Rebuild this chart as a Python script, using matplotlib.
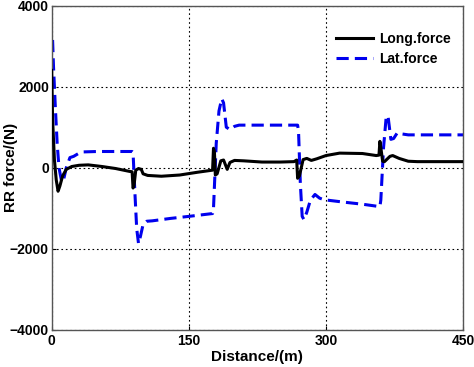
"""
RR force vs distance: longitudinal and lateral tyre force.
"""

import numpy as np
import matplotlib
matplotlib.use("Agg")
import matplotlib.pyplot as plt

plt.rcParams["font.family"] = ["Liberation Sans", "DejaVu Sans"]
plt.rcParams["font.weight"] = "bold"

# ── Data ────────────────────────────────────────────────────────
long_dist = [0, 1, 2, 3, 5, 7, 9, 12, 16, 22, 30, 40, 55, 70, 85, 88, 89, 90,
             92, 95, 98, 100, 105, 120, 140, 160, 176, 177, 178, 179, 181,
             185, 188, 192, 195, 200, 210, 230, 250, 265, 268, 269, 271, 275,
             279, 284, 290, 300, 315, 340, 355, 358, 359, 360, 362, 364, 370,
             373, 380, 390, 400, 450]
long_force = [2400, 1200, 700, 200, -300, -580, -450, -200, -40, 30, 60, 70,
              30, -20, -90, -100, -500, -450, -60, -20, -40, -150, -190, -210,
              -180, -110, -60, 480, 400, -180, -150, 170, 190, -40, 130, 180,
              170, 140, 140, 150, 190, -260, -200, 200, 230, 180, 220, 300,
              360, 350, 300, 310, 650, 500, 160, 150, 280, 300, 230, 160, 150,
              150]

lat_dist = [1, 2, 4, 6, 8, 11, 13, 16, 20, 24, 30, 35, 50, 88, 89, 91, 93, 95,
            97, 100, 104, 110, 130, 150, 176, 177, 180, 183, 186, 188, 191,
            195, 200, 205, 269, 270, 272, 274, 276, 279, 283, 288, 293, 298,
            320, 340, 359, 360, 363, 366, 368, 371, 374, 378, 381, 390, 450]
lat_force = [3150, 2500, 1500, 600, 0, -350, -300, 0, 250, 280, 360, 390, 400,
             400, 380, -600, -1500, -1870, -1700, -1400, -1320, -1310, -1250,
             -1200, -1130, -1000, 600, 1400, 1700, 1600, 1000, 940, 1020, 1050,
             1050, 900, -400, -1200, -1280, -1100, -800, -660, -750, -790,
             -850, -900, -960, -800, 500, 1280, 1250, 700, 720, 860, 840, 810,
             810]

x_ticks = [0, 150, 300, 450]
y_ticks = [-4000, -2000, 0, 2000, 4000]

# ── Plot ─────────────────────────────────────────────────────────
fig = plt.figure(figsize=(4.74, 3.67), dpi=100)
ax = fig.add_axes([0.109, 0.101, 0.868, 0.884])

ax.plot(long_dist, long_force, color="black", linewidth=2.2,
        label="Long.force", zorder=3)
ax.plot(lat_dist, lat_force, color="#0000ee", linewidth=2.2,
        linestyle=(0, (4, 2)), label="Lat.force", zorder=2)

ax.set_xlim(0, 450)
ax.set_ylim(-4000, 4000)
ax.set_xticks(x_ticks)
ax.set_yticks(y_ticks)
ax.tick_params(direction="in", length=3, labelsize=10)
ax.tick_params(axis="x", pad=3)
ax.tick_params(axis="y", pad=2)
for lab in ax.get_xticklabels() + ax.get_yticklabels():
    lab.set_fontweight("bold")

ax.grid(True, color="black", linestyle=(0, (1.5, 2.5)), linewidth=0.8)
for sp in ax.spines.values():
    sp.set_color("#555555")
    sp.set_linewidth(1.0)

ax.set_xlabel("Distance/(m)", fontsize=11, fontweight="bold")
ax.set_ylabel("RR force/(N)", fontsize=11, fontweight="bold")
ax.xaxis.set_label_coords(0.5, -0.062)
ax.yaxis.set_label_coords(-0.083, 0.5)

ax.legend(loc="upper right", bbox_to_anchor=(1.0, 0.958), frameon=False,
          handlelength=2.7, handletextpad=0.4, labelspacing=0.45,
          prop={"weight": "bold", "size": 10})

fig.savefig("out.png", dpi=100, facecolor="white")
plt.close()
